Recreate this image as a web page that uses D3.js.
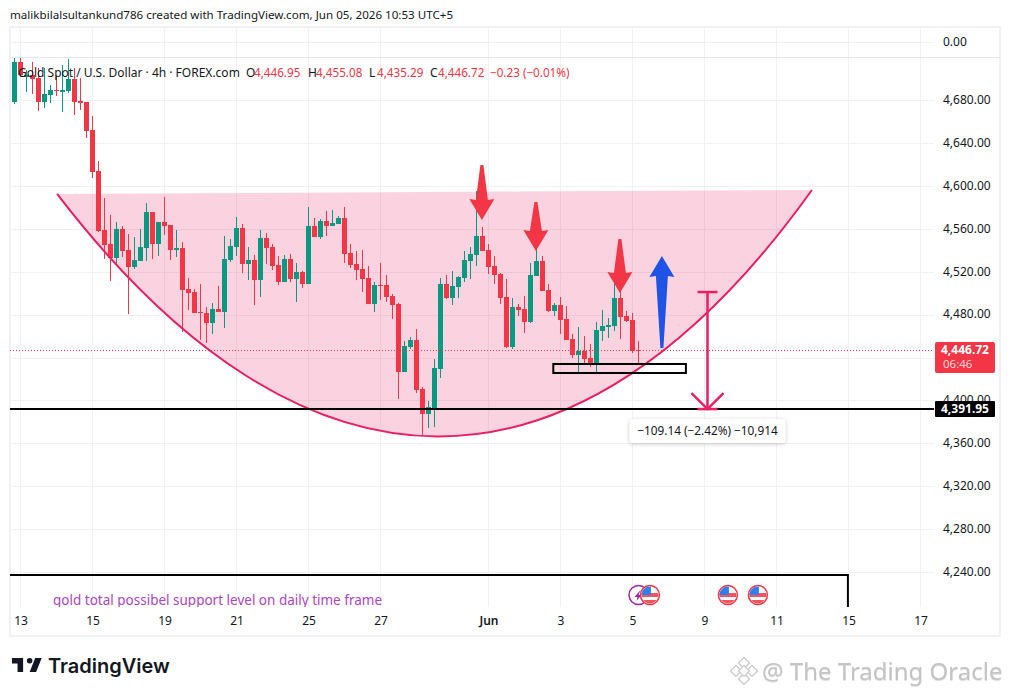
<!DOCTYPE html>
<html>
<head>
<meta charset="utf-8">
<script src="https://d3js.org/d3.v7.min.js"></script>
<style>
  html, body { margin: 0; padding: 0; background: #fff; }
  svg { display: block; }
  text { font-family: "Noto Sans", sans-serif; }
</style>
</head>
<body>
<svg id="chart" width="1010" height="696"></svg>
<script>
// 4h candles
let opens = [
  4678.4,4715.7,4701.7,4703.6,4700.8,4678.7,4684.9,4689.6,4688.0,4688.7,
  4699.9,4679.3,4678.4,4652.3,4614.0,4559.0,4546.0,4532.9,4560.0,4540.4,
  4524.5,4530.1,4542.2,4575.8,4546.0,4566.5,4563.7,4540.4,4542.2,4504.0,
  4501.2,4482.5,4481.6,4472.3,4485.3,4482.5,4531.0,4543.2,4560.9,4527.3,
  4531.0,4512.4,4551.6,4543.2,4526.4,4510.5,4532.0,4513.3,4519.9,4508.6,
  4562.8,4552.5,4567.4,4562.8,4564.6,4570.2,4537.6,4527.3,4522.6,4514.3,
  4490.0,4507.7,4507.7,4497.5,4490.0,4426.6,4449.9,4456.4,4410.7,4387.4,
  4393.0,4429.4,4508.6,4495.6,4505.9,4514.3,4530.1,4535.7,4553.4,4540.4,
  4525.4,4518.0,4496.5,4449.9,4487.2,4485.3,4473.2,4516.1,4530.1,4503.0,
  4483.5,4489.0,4476.0,4457.4,4442.4,4446.2,4439.6,4434.0,4464.8,4468.5,
  4469.5,4495.6,4478.8,4475.1,4446.95]
let highs = [
  4719.4,4719.4,4708.3,4715.7,4710.1,4710.1,4694.3,4702.6,4712.9,4718.5,
  4710.1,4700.8,4678.7,4665.3,4623.4,4588.9,4573.0,4566.5,4562.8,4555.3,
  4552.5,4560.0,4584.2,4575.8,4566.5,4589.8,4563.7,4559.0,4547.8,4514.3,
  4504.0,4508.6,4487.2,4490.9,4506.8,4553.4,4550.6,4571.1,4564.6,4543.2,
  4535.7,4559.0,4556.2,4546.0,4534.8,4535.7,4536.6,4528.2,4520.8,4580.5,
  4570.2,4569.3,4576.8,4577.7,4572.0,4580.5,4546.0,4539.4,4540.4,4525.4,
  4510.5,4528.2,4517.1,4499.3,4490.9,4455.5,4459.2,4466.7,4412.6,4399.5,
  4438.7,4514.3,4517.1,4520.8,4516.1,4539.4,4543.2,4595.4,4561.8,4546.0,
  4534.8,4518.9,4513.3,4495.6,4490.0,4497.5,4528.2,4542.2,4534.8,4508.6,
  4490.9,4496.5,4488.1,4462.0,4468.5,4460.2,4452.7,4473.2,4484.4,4477.0,
  4515.2,4507.7,4483.5,4481.6,4455.08]
let lows = [
  4676.5,4701.7,4687.7,4685.9,4670.3,4672.8,4677.7,4684.0,4669.3,4687.1,
  4666.5,4671.2,4645.1,4607.8,4557.1,4531.9,4511.5,4525.4,4533.8,4480.7,
  4522.6,4530.1,4530.1,4531.9,4534.8,4554.4,4531.0,4533.8,4463.9,4484.4,
  4481.6,4456.4,4453.6,4462.0,4482.5,4467.6,4529.2,4534.8,4518.9,4512.4,
  4489.0,4496.5,4527.3,4521.7,4507.7,4510.5,4510.5,4491.8,4504.9,4508.6,
  4552.5,4550.6,4553.4,4562.8,4564.6,4528.2,4523.6,4512.4,4501.2,4490.0,
  4482.5,4493.7,4491.8,4476.0,4401.4,4426.6,4448.0,4407.0,4366.9,4374.3,
  4375.3,4421.0,4494.6,4489.0,4495.6,4510.5,4513.3,4525.4,4539.4,4518.0,
  4508.6,4490.0,4449.0,4448.0,4478.8,4463.0,4472.3,4516.1,4502.1,4482.5,
  4478.8,4462.0,4456.4,4439.6,4426.6,4434.0,4431.2,4424.7,4455.5,4458.3,
  4464.8,4457.4,4473.2,4444.3,4435.29]
let closes = [
  4715.7,4703.6,4703.6,4699.9,4678.7,4685.9,4689.6,4688.7,4689.3,4699.9,
  4678.7,4677.7,4651.6,4613.1,4558.1,4545.0,4532.9,4560.0,4539.4,4524.5,
  4531.0,4543.2,4575.8,4546.0,4566.5,4562.8,4540.4,4542.2,4503.0,4500.2,
  4481.6,4481.6,4472.3,4485.3,4482.5,4532.0,4544.1,4560.9,4527.3,4531.0,
  4512.4,4551.6,4542.2,4525.4,4510.5,4532.0,4513.3,4519.9,4508.6,4562.8,
  4552.5,4567.4,4562.8,4565.5,4570.2,4536.6,4526.4,4521.7,4513.3,4490.0,
  4507.7,4506.8,4496.5,4489.0,4426.6,4450.8,4456.4,4409.8,4387.4,4394.0,
  4430.3,4508.6,4495.6,4506.8,4515.2,4531.0,4536.6,4553.4,4539.4,4524.5,
  4517.1,4495.6,4449.9,4487.2,4484.4,4473.2,4517.1,4530.1,4502.1,4483.5,
  4489.0,4475.1,4456.4,4442.4,4446.2,4438.7,4434.0,4465.7,4469.5,4470.4,
  4495.6,4477.9,4474.1,4446.2,4446.72]

// time axis: candle index of each date label
let dateIdx = [1, 13, 25, 37, 49, 61, 79, 91, 103, 115, 127, 139, 151]
let dateLabels = ["13", "15", "19", "21", "25", "27", "Jun", "3", "5", "9", "11", "15", "17"]

let gridPrices = [4240, 4280, 4320, 4360, 4400, 4440, 4480, 4520, 4560, 4600, 4640, 4680]
let labelPrices = [4240, 4280, 4320, 4360, 4400, 4480, 4520, 4560, 4600, 4640, 4680]

let lastPrice = 4446.72
let supportPrice = 4391.95

// drawings, in candle index / price
let arcIdx = [7.1, 47.9, 93.4, 132.9]
let arcPrice = [4592.6, 4294.1, 4286.7, 4596.3]
let downArrowIdx = [77.9, 86.9, 100.9]
let downArrowTop = [4619.6, 4585.1, 4550.6]
let downArrowTip = [4568.4, 4539.4, 4500.2]
let upArrowIdx = 107.9
let upArrowTail = 4449
let upArrowTip = 4534.8
let boxIdx = [89.8, 111.9]
let boxPrice = [4434, 4425.6]
let measureIdx = 115.5
let measurePrice = [4501.09, 4391.95]
let bigBoxIdx = [-30, 138.9]
let bigBoxPrice = [4237.2, 4150]
let flagIdx = [105.9, 118.9, 123.9]
let boltIdx = 104

let green = "#089981", red = "#f23645", pink = "#e91e63", ink = "#131722", gridColor = "#f0f1f4"

let svg = d3.select("#chart")

let x = d3.scaleLinear().domain([1, 79]).range([20.5, 488.5])
let y = d3.scaleLinear().domain([4240, 4600]).range([572, 186])
let yTop = d3.scaleLinear().domain([-1, 1]).range([57, 27])

let plot = { left: 10, right: 934, top: 57, bottom: 607 }

svg.append("defs").append("clipPath").attr("id", "plot-clip")
  .append("rect")
  .attr("x", plot.left).attr("y", plot.top)
  .attr("width", plot.right - plot.left).attr("height", plot.bottom - plot.top)

svg.select("defs").append("clipPath").attr("id", "flag-clip")
  .append("circle").attr("r", 8.5)

// frame
svg.append("rect")
  .attr("x", 10).attr("y", 27).attr("width", 990).attr("height", 609)
  .style("fill", "#fff").style("stroke", "#f0f1f4").style("stroke-width", "2px")

// grid
svg.append("g").selectAll("line")
  .data(gridPrices)
  .join("line")
  .attr("x1", plot.left).attr("x2", plot.right)
  .attr("y1", d => Math.round(y(d)) + 0.5).attr("y2", d => Math.round(y(d)) + 0.5)
  .style("stroke", gridColor)

svg.append("line")
  .attr("x1", plot.left).attr("x2", plot.right)
  .attr("y1", Math.round(yTop(0)) + 0.5).attr("y2", Math.round(yTop(0)) + 0.5)
  .style("stroke", gridColor)

svg.append("g").selectAll("line")
  .data(dateIdx)
  .join("line")
  .attr("x1", d => x(d)).attr("x2", d => x(d))
  .attr("y1", 27).attr("y2", plot.bottom)
  .style("stroke", gridColor)

// pane separator
svg.append("line")
  .attr("x1", 10).attr("x2", 1000)
  .attr("y1", 57.5).attr("y2", 57.5)
  .style("stroke", "#e4e5ea")

let chart = svg.append("g").attr("clip-path", "url(#plot-clip)")

// the cup: filled arc
function arcPath() {
  let p = d3.path()
  p.moveTo(x(arcIdx[0]), y(arcPrice[0]))
  p.bezierCurveTo(x(arcIdx[1]), y(arcPrice[1]), x(arcIdx[2]), y(arcPrice[2]), x(arcIdx[3]), y(arcPrice[3]))
  return p.toString()
}

chart.append("path")
  .attr("d", arcPath() + "Z")
  .style("fill", pink)
  .style("fill-opacity", 0.2)

// candles
let candles = chart.append("g").selectAll("g")
  .data(opens.map((o, i) => ({ i: i, o: o, h: highs[i], l: lows[i], c: closes[i] })))
  .join("g")
  .style("fill", d => d.c >= d.o ? green : red)

candles.append("rect")
  .attr("x", d => x(d.i) - 0.5)
  .attr("width", 1)
  .attr("y", d => Math.round(y(d.h)))
  .attr("height", d => Math.max(1, Math.round(y(d.l)) - Math.round(y(d.h))))

candles.append("rect")
  .attr("x", d => x(d.i) - 2.5)
  .attr("width", 5)
  .attr("y", d => Math.round(y(Math.max(d.o, d.c))))
  .attr("height", d => Math.max(1, Math.round(y(Math.min(d.o, d.c))) - Math.round(y(Math.max(d.o, d.c)))))

chart.append("path")
  .attr("d", arcPath())
  .style("fill", "none")
  .style("stroke", pink)
  .style("stroke-width", "2px")

// last price, dotted
chart.append("line")
  .attr("x1", plot.left).attr("x2", plot.right)
  .attr("y1", Math.round(y(lastPrice)) + 0.5).attr("y2", Math.round(y(lastPrice)) + 0.5)
  .style("stroke", red)
  .style("stroke-dasharray", "1 2")

// support line
chart.append("line")
  .attr("x1", plot.left).attr("x2", plot.right)
  .attr("y1", y(supportPrice)).attr("y2", y(supportPrice))
  .style("stroke", "#000")
  .style("stroke-width", "2px")

// small box under the last lows
chart.append("rect")
  .attr("x", x(boxIdx[0])).attr("width", x(boxIdx[1]) - x(boxIdx[0]))
  .attr("y", y(boxPrice[0])).attr("height", y(boxPrice[1]) - y(boxPrice[0]))
  .style("fill", "none")
  .style("stroke", "#000")
  .style("stroke-width", "2px")

// large box at the bottom, runs out of the pane
chart.append("rect")
  .attr("x", x(bigBoxIdx[0])).attr("width", x(bigBoxIdx[1]) - x(bigBoxIdx[0]))
  .attr("y", y(bigBoxPrice[0])).attr("height", y(bigBoxPrice[1]) - y(bigBoxPrice[0]))
  .style("fill", "none")
  .style("stroke", "#000")
  .style("stroke-width", "2px")

// arrows: blunt tail widening into the head
function arrowPath(cx, tail, tip) {
  let dir = tip > tail ? 1 : -1
  let head = tip - dir * 20
  return d3.line()([
    [cx - 1.5, tail], [cx + 1.5, tail], [cx + 6, head], [cx + 12.5, head - dir], [cx, tip],
    [cx - 12.5, head - dir], [cx - 6, head]
  ]) + "Z"
}

chart.append("g").selectAll("path")
  .data(downArrowIdx)
  .join("path")
  .attr("d", (d, i) => arrowPath(x(d), y(downArrowTop[i]), y(downArrowTip[i])))
  .style("fill", red)

chart.append("path")
  .attr("d", arrowPath(x(upArrowIdx), y(upArrowTail), y(upArrowTip)))
  .style("fill", "#1e53e5")

// price range measure
let mx = x(measureIdx)
let measure = chart.append("g")
  .style("stroke", pink)
  .style("stroke-width", "2.5px")
  .style("fill", "none")
measure.append("path")
  .attr("d", d3.line()([[mx - 10, y(measurePrice[0])], [mx + 10, y(measurePrice[0])]]))
measure.append("path")
  .attr("d", d3.line()([[mx - 10, y(measurePrice[1])], [mx + 10, y(measurePrice[1])]]))
measure.append("path")
  .attr("d", d3.line()([[mx, y(measurePrice[0])], [mx, y(measurePrice[1])]]))
measure.append("path")
  .attr("d", d3.line()([[mx - 16, y(measurePrice[1]) - 16], [mx, y(measurePrice[1])], [mx + 16, y(measurePrice[1]) - 16]]))

let measureLabel = svg.append("g")
measureLabel.append("rect")
  .attr("x", mx - 78).attr("y", 419).attr("width", 156).attr("height", 24).attr("rx", 3)
  .style("fill", "#fff")
  .style("filter", "drop-shadow(0 1px 2px rgba(0,0,0,0.2))")
measureLabel.append("text")
  .attr("x", mx).attr("y", 431).attr("dy", "0.35em")
  .attr("text-anchor", "middle")
  .style("font-size", "11.8px")
  .style("fill", ink)
  .text("\u2212109.14 (\u22122.42%) \u221210,914")

// note inside the large box
chart.append("text")
  .attr("x", 53).attr("y", 605)
  .style("font-size", "13.5px")
  .style("fill", "#ab47bc")
  .text("gold total possibel support level on daily time frame")

// event markers
let eventY = 595
svg.append("circle")
  .attr("cx", x(boltIdx)).attr("cy", eventY).attr("r", 9.5)
  .style("fill", "#fff").style("stroke", "#9c27b0").style("stroke-width", "1.5px")
svg.append("path")
  .attr("transform", `translate(${x(boltIdx)},${eventY})`)
  .attr("d", "M2,-5 L-4,2 L-1,2 L-2,6 L3,0 L0,0 Z")
  .style("fill", "#9c27b0")

let flags = svg.append("g").selectAll("g")
  .data(flagIdx)
  .join("g")
  .attr("transform", d => `translate(${x(d)},${eventY})`)
flags.append("circle").attr("r", 9.5)
  .style("fill", "#fff").style("stroke", red).style("stroke-width", "1.5px")
let flagInner = flags.append("g").attr("clip-path", "url(#flag-clip)")
flagInner.append("rect").attr("x", -9).attr("y", -2).attr("width", 18).attr("height", 4).style("fill", "#f7525f")
flagInner.append("rect").attr("x", -9).attr("y", 5).attr("width", 18).attr("height", 4).style("fill", "#f7525f")
flagInner.append("rect").attr("x", -9).attr("y", -9).attr("width", 10).attr("height", 9).style("fill", "#2f80ed")

// axes
let yAxis = d3.axisRight(y)
  .tickValues(labelPrices)
  .tickSize(0)
  .tickPadding(9)
  .tickFormat(d3.format(",.2f"))

let yAxisG = svg.append("g").attr("transform", "translate(934,-0.6)").call(yAxis)

let yTopAxis = d3.axisRight(yTop)
  .tickValues([0])
  .tickSize(0)
  .tickPadding(9)
  .tickFormat(d3.format(".2f"))

let yTopG = svg.append("g").attr("transform", "translate(934,-0.6)").call(yTopAxis)

let xAxis = d3.axisBottom(x)
  .tickValues(dateIdx)
  .tickSize(0)
  .tickPadding(9)
  .tickFormat((d, i) => dateLabels[i])

let xAxisG = svg.append("g").attr("transform", `translate(0,${plot.bottom})`).call(xAxis)

svg.selectAll(".domain").remove()
svg.selectAll(".tick text")
  .style("font-family", '"Noto Sans", sans-serif')
  .style("font-size", "12px")
  .style("fill", ink)

xAxisG.selectAll(".tick text")
  .filter((d, i) => dateLabels[i] == "Jun")
  .style("font-weight", "600")

// price tags on the axis
svg.append("rect").attr("x", 935).attr("y", 342).attr("width", 60).attr("height", 31).attr("rx", 2).style("fill", red)
svg.append("text").attr("x", 965).attr("y", 349.5).attr("dy", "0.35em").attr("text-anchor", "middle")
  .style("font-size", "12px").style("font-weight", "700").style("fill", "#fff")
  .text(d3.format(",.2f")(lastPrice))
svg.append("text").attr("x", 943).attr("y", 364).attr("dy", "0.35em")
  .style("font-size", "11.5px").style("fill", "#fcd5d9")
  .text("06:46")

svg.append("rect").attr("x", 935).attr("y", 401).attr("width", 60).attr("height", 16).attr("rx", 1).style("fill", "#000")
svg.append("text").attr("x", 965).attr("y", 409).attr("dy", "0.35em").attr("text-anchor", "middle")
  .style("font-size", "12px").style("font-weight", "700").style("fill", "#fff")
  .text(d3.format(",.2f")(supportPrice))

// header and legend
svg.append("text").attr("x", 10).attr("y", 19)
  .style("font-size", "11.6px").style("fill", ink)
  .text("malikbilalsultankund786 created with TradingView.com, Jun 05, 2026 10:53 UTC+5")

svg.append("text").attr("x", 18).attr("y", 77)
  .style("font-size", "12px").style("fill", ink)
  .text("Gold Spot / U.S. Dollar \u00b7 4h \u00b7 FOREX.com")

let legendKeys = ["O", "H", "L", "C"]
let legendValues = ["4,446.95", "4,455.08", "4,435.29", "4,446.72"]
let legendX = [246, 308, 369, 430]
legendKeys.forEach((k, i) => {
  svg.append("text").attr("x", legendX[i]).attr("y", 77)
    .style("font-size", "12px").style("fill", ink).text(k)
  svg.append("text").attr("x", legendX[i] + 8).attr("y", 77)
    .style("font-size", "11.7px").style("fill", red).text(legendValues[i])
})
svg.append("text").attr("x", 490).attr("y", 77)
  .style("font-size", "11.7px").style("fill", red)
  .text("\u22120.23 (\u22120.01%)")

// TradingView logo
svg.append("path")
  .attr("transform", "translate(10.1,652.4) scale(0.93)")
  .attr("d", "M14 6H2v6h6v9h6V6Zm14 15h-7l6-15h7l-6 15Zm-7-9a3 3 0 1 0 0-6 3 3 0 0 0 0 6Z")
  .style("fill", ink)
svg.append("text").attr("x", 48).attr("y", 673)
  .style("font-family", "Inter, sans-serif")
  .style("font-size", "20px").style("font-weight", "600").style("fill", ink)
  .text("TradingView")

// watermark
let diamond = svg.append("g")
  .attr("transform", "translate(744,671)")
  .style("fill", "#fff").style("stroke", "#c9c9c9").style("stroke-width", "1.2px")
let diamondAt = [[0, -8], [8, 0], [0, 8], [-8, 0], [0, 0]]
diamond.selectAll("path")
  .data(diamondAt)
  .join("path")
  .attr("transform", d => `translate(${d[0]},${d[1]})`)
  .attr("d", "M0,-5.5 L5.5,0 L0,5.5 L-5.5,0 Z")
svg.append("text").attr("x", 762).attr("y", 680)
  .style("font-size", "24px").style("fill", "#c4c4c4")
  .style("filter", "drop-shadow(0 1px 0 rgba(0,0,0,0.12))")
  .text("@ The Trading Oracle")
</script>
</body>
</html>
